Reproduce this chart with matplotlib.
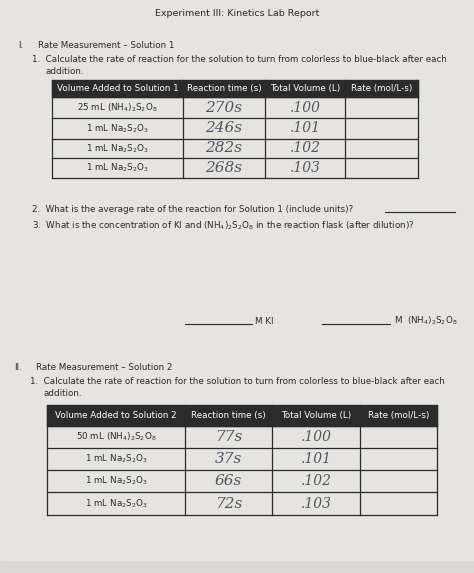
import matplotlib.pyplot as plt
from matplotlib.patches import Rectangle

# table contents
headers1 = ['Volume Added to Solution 1', 'Reaction time (s)', 'Total Volume (L)', 'Rate (mol/L-s)']
volumes1 = [r'25 mL (NH$_4$)$_2$S$_2$O$_8$', r'1 mL Na$_2$S$_2$O$_3$', r'1 mL Na$_2$S$_2$O$_3$', r'1 mL Na$_2$S$_2$O$_3$']
times1 = ['270s', '246s', '282s', '268s']
totals1 = ['.100', '.101', '.102', '.103']

headers2 = ['Volume Added to Solution 2', 'Reaction time (s)', 'Total Volume (L)', 'Rate (mol/L-s)']
volumes2 = [r'50 mL (NH$_4$)$_2$S$_2$O$_8$', r'1 mL Na$_2$S$_2$O$_3$', r'1 mL Na$_2$S$_2$O$_3$', r'1 mL Na$_2$S$_2$O$_3$']
times2 = ['77s', '37s', '66s', '72s']
totals2 = ['.100', '.101', '.102', '.103']

fig = plt.figure(figsize=(4.74, 5.73), dpi=100)
fig.patch.set_facecolor('#dcdad6')
ax = fig.add_axes([0, 0, 1, 1])
ax.set_xlim(0, 474)
ax.set_ylim(573, 0)
ax.axis('off')
ax.add_patch(Rectangle((0, 0), 474, 560, color='#e6e4e1', zorder=0))

fs = 6.3
ink = '#2a2a2a'
hand = '#555560'


def txt(x, y, s, **kw):
    kw.setdefault('fontsize', fs)
    kw.setdefault('color', ink)
    ax.text(x, y, s, va='center', **kw)


def table(x0, cols, rows, headers, vols, times, totals):
    ax.add_patch(Rectangle((x0, rows[0]), cols[-1] - x0, rows[1] - rows[0], color='#2b2b2b', zorder=1))
    edges = [x0] + cols
    for i, h in enumerate(headers):
        ax.text((edges[i] + edges[i + 1]) / 2, (rows[0] + rows[1]) / 2, h, ha='center', va='center',
                fontsize=fs, color='white', zorder=2)
    for y in rows[1:]:
        ax.plot([x0, cols[-1]], [y, y], color=ink, lw=0.9)
    for x in edges:
        ax.plot([x, x], [rows[0], rows[-1]], color=ink, lw=0.9)
    for r in range(len(vols)):
        yc = (rows[r + 1] + rows[r + 2]) / 2
        ax.text((edges[0] + edges[1]) / 2, yc, vols[r], ha='center', va='center', fontsize=fs, color=ink)
        ax.text((edges[1] + edges[2]) / 2, yc, times[r], ha='center', va='center', fontsize=11,
                color=hand, style='italic', family='DejaVu Serif')
        ax.text((edges[2] + edges[3]) / 2, yc, totals[r], ha='center', va='center', fontsize=10,
                color=hand, style='italic', family='DejaVu Serif')


ax.text(237, 14, 'Experiment III: Kinetics Lab Report', ha='center', va='center', fontsize=6.8, color=ink)

txt(18, 46, 'I.')
txt(38, 46, 'Rate Measurement – Solution 1')
txt(32, 59, '1.  Calculate the rate of reaction for the solution to turn from colorless to blue-black after each')
txt(46, 72, 'addition.')
table(52, [183, 265, 345, 418], [80, 97, 118, 139, 158, 178], headers1, volumes1, times1, totals1)

txt(32, 209, '2.  What is the average rate of the reaction for Solution 1 (include units)?')
ax.plot([385, 455], [212, 212], color=ink, lw=0.8)
txt(32, 226, r'3.  What is the concentration of KI and (NH$_4$)$_2$S$_2$O$_8$ in the reaction flask (after dilution)?')

ax.plot([185, 252], [324, 324], color=ink, lw=0.8)
txt(255, 321, 'M KI')
ax.plot([322, 390], [324, 324], color=ink, lw=0.8)
txt(394, 321, r'M  (NH$_4$)$_2$S$_2$O$_8$')

txt(14, 368, 'II.')
txt(36, 368, 'Rate Measurement – Solution 2')
txt(30, 381, '1.  Calculate the rate of reaction for the solution to turn from colorless to blue-black after each')
txt(44, 394, 'addition.')
table(47, [185, 272, 360, 437], [405, 426, 448, 470, 492, 515], headers2, volumes2, times2, totals2)

fig.savefig('out.png', dpi=100, facecolor=fig.get_facecolor())
